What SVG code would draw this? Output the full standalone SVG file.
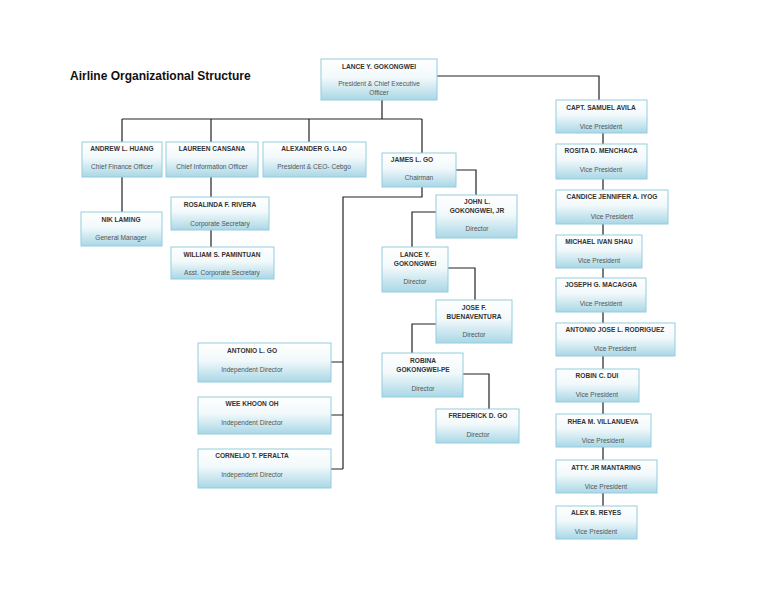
<svg xmlns="http://www.w3.org/2000/svg" width="768" height="594" viewBox="0 0 768 594">
<defs>
<linearGradient id="g" x1="0" y1="0" x2="0" y2="1"><stop offset="0" stop-color="#ffffff"/><stop offset="0.45" stop-color="#f2f9fb"/><stop offset="1" stop-color="#a9d7e6"/></linearGradient>
<style>
.b{fill:url(#g);stroke:#93cde0;stroke-width:1}
.n{font-family:"Liberation Sans",Arial,sans-serif;font-size:6.6px;font-weight:bold;fill:#333;text-anchor:middle}
.t{font-family:"Liberation Sans",Arial,sans-serif;font-size:6.6px;fill:#555;text-anchor:middle}
.c{fill:none;stroke:#222;stroke-width:1.2}
</style>
</defs>
<rect width="768" height="594" fill="#fff"/>
<text x="70" y="80" font-family="Liberation Sans,Arial,sans-serif" font-size="12" font-weight="bold" fill="#111">Airline Organizational Structure</text>
<g id="connectors" class="c">
<path d="M382 100V119M122 119H422M122 119V142M211 119V142M309 119V142M422 119V153"/>
<path d="M122 177V212M211 177V197M211 230V247"/>
<path d="M456 170H476V195M422 187V197H343V469M331 362H343M331 415H343M331 469H343"/>
<path d="M436 212H412V247M448 268H475V300M436 324H412V353M463 374H489V409"/>
<path d="M437 76H599V100M603 133V144M603 179V190M603 224V235M603 268V278M603 312V323M603 356V369M603 402V414M603 447V460M603 493V506"/>
</g>
<g id="ceo"><rect class="b" x="321" y="59" width="116" height="41"/><text class="n" x="379" y="69">LANCE Y. GOKONGWEI</text><text class="t" x="379" y="86">President  &amp; Chief Executive</text><text class="t" x="379" y="95">Officer</text></g>
<g id="huang"><rect class="b" x="82" y="142" width="80" height="35"/><text class="n" x="122" y="151">ANDREW L. HUANG</text><text class="t" x="122" y="169">Chief Finance Officer</text></g>
<g id="cansana"><rect class="b" x="166" y="142" width="92" height="35"/><text class="n" x="212" y="151">LAUREEN CANSANA</text><text class="t" x="212" y="169">Chief Information Officer</text></g>
<g id="lao"><rect class="b" x="263" y="142" width="103" height="35"/><text class="n" x="314" y="151">ALEXANDER G. LAO</text><text class="t" x="314" y="169">President &amp; CEO- Cebgo</text></g>
<g id="jamesgo"><rect class="b" x="382" y="153" width="74" height="34"/><text class="n" x="412" y="162">JAMES L. GO</text><text class="t" x="419" y="180">Chairman</text></g>
<g id="laming"><rect class="b" x="81" y="212" width="81" height="34"/><text class="n" x="121" y="222">NIK LAMING</text><text class="t" x="121" y="240">General Manager</text></g>
<g id="rivera"><rect class="b" x="171" y="197" width="98" height="33"/><text class="n" x="220" y="207">ROSALINDA F. RIVERA</text><text class="t" x="220" y="226">Corporate Secretary</text></g>
<g id="pamintuan"><rect class="b" x="171" y="247" width="103" height="32"/><text class="n" x="222" y="257">WILLIAM S. PAMINTUAN</text><text class="t" x="222" y="275">Asst. Corporate Secretary</text></g>
<g id="johnl"><rect class="b" x="436" y="195" width="81" height="43"/><text class="n" x="477" y="204">JOHN L.</text><text class="n" x="477" y="213">GOKONGWEI, JR</text><text class="t" x="477" y="231">Director</text></g>
<g id="lancedir"><rect class="b" x="382" y="247" width="66" height="45"/><text class="n" x="415" y="257">LANCE Y.</text><text class="n" x="415" y="266">GOKONGWEI</text><text class="t" x="415" y="284">Director</text></g>
<g id="jose"><rect class="b" x="436" y="300" width="76" height="43"/><text class="n" x="474" y="310">JOSE F.</text><text class="n" x="474" y="319">BUENAVENTURA</text><text class="t" x="474" y="337">Director</text></g>
<g id="robina"><rect class="b" x="382" y="353" width="81" height="44"/><text class="n" x="423" y="363">ROBINA</text><text class="n" x="423" y="372">GOKONGWEI-PE</text><text class="t" x="423" y="391">Director</text></g>
<g id="frederick"><rect class="b" x="436" y="409" width="83" height="34"/><text class="n" x="478" y="418">FREDERICK D. GO</text><text class="t" x="478" y="437">Director</text></g>
<g id="antoniogo"><rect class="b" x="198" y="343" width="133" height="39"/><text class="n" x="252" y="353">ANTONIO L. GO</text><text class="t" x="252" y="372">Independent Director</text></g>
<g id="wee"><rect class="b" x="198" y="397" width="133" height="37"/><text class="n" x="252" y="406">WEE KHOON OH</text><text class="t" x="252" y="425">Independent Director</text></g>
<g id="peralta"><rect class="b" x="198" y="449" width="133" height="39"/><text class="n" x="252" y="458">CORNELIO T. PERALTA</text><text class="t" x="252" y="477">Independent Director</text></g>
<g id="avila"><rect class="b" x="556" y="100" width="91" height="33"/><text class="n" x="601" y="110">CAPT. SAMUEL AVILA</text><text class="t" x="601" y="129">Vice President</text></g>
<g id="menchaca"><rect class="b" x="556" y="144" width="91" height="35"/><text class="n" x="601" y="153">ROSITA D. MENCHACA</text><text class="t" x="601" y="172">Vice President</text></g>
<g id="iyog"><rect class="b" x="556" y="190" width="112" height="34"/><text class="n" x="612" y="199">CANDICE JENNIFER A. IYOG</text><text class="t" x="612" y="219">Vice President</text></g>
<g id="shau"><rect class="b" x="556" y="235" width="86" height="33"/><text class="n" x="599" y="244">MICHAEL IVAN SHAU</text><text class="t" x="599" y="263">Vice President</text></g>
<g id="macagga"><rect class="b" x="556" y="278" width="90" height="34"/><text class="n" x="601" y="287">JOSEPH G. MACAGGA</text><text class="t" x="601" y="306">Vice President</text></g>
<g id="rodriguez"><rect class="b" x="556" y="323" width="119" height="33"/><text class="n" x="615" y="332">ANTONIO JOSE L. RODRIGUEZ</text><text class="t" x="615" y="351">Vice President</text></g>
<g id="dui"><rect class="b" x="556" y="369" width="83" height="33"/><text class="n" x="597" y="378">ROBIN C. DUI</text><text class="t" x="597" y="397">Vice President</text></g>
<g id="villanueva"><rect class="b" x="556" y="414" width="95" height="33"/><text class="n" x="603" y="424">RHEA M. VILLANUEVA</text><text class="t" x="603" y="443">Vice President</text></g>
<g id="mantaring"><rect class="b" x="556" y="460" width="101" height="33"/><text class="n" x="606" y="470">ATTY. JR MANTARING</text><text class="t" x="606" y="489">Vice President</text></g>
<g id="reyes"><rect class="b" x="556" y="506" width="81" height="33"/><text class="n" x="596" y="515">ALEX B. REYES</text><text class="t" x="596" y="534">Vice President</text></g>
</svg>
